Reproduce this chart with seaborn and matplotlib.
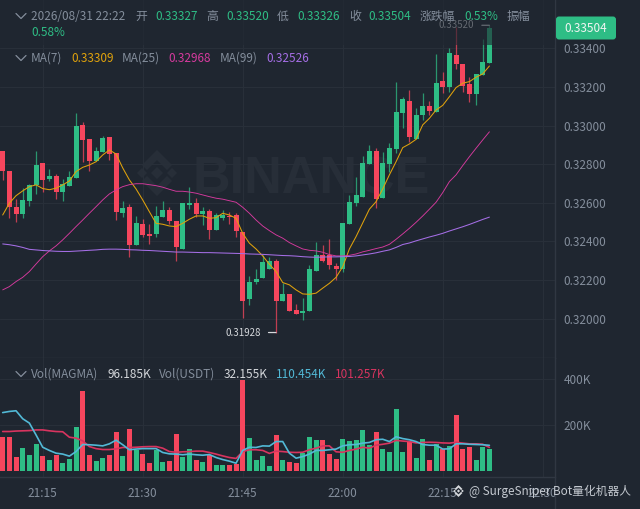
import matplotlib
matplotlib.use("Agg")
import matplotlib.pyplot as plt
import numpy as np
import pandas as pd
import seaborn as sns
from matplotlib.lines import Line2D
from matplotlib.patches import FancyBboxPatch, Polygon
from matplotlib.transforms import IdentityTransform

# 1m candles, 21:09 .. 22:22
opens = [.32867,.32765,.32580,.32542,.32610,.32691,.32805,.32724,.32739,.32658,
         .32689,.32729,.33004,.32931,.32817,.32865,.32940,.32858,.32546,.32580,
         .32382,.32491,.32439,.32439,.32528,.32563,.32508,.32360,.32589,.32598,
         .32541,.32560,.32460,.32523,.32534,.32537,.32449,.32102,.32192,.32211,
         .32256,.32300,.32093,.32128,.32045,.32031,.32038,.32247,.32330,.32330,
         .32273,.32256,.32491,.32601,.32629,.32801,.32869,.32624,.32801,.32879,
         .33067,.33128,.32931,.33055,.33102,.33072,.33232,.33199,.33366,.33320,
         .33216,.33164,.33263,.33327]
highs = [.32867,.32765,.32619,.32676,.32699,.32869,.32805,.32774,.32748,.32724,
         .32765,.33066,.33018,.32931,.32890,.32947,.32940,.32858,.32612,.32594,
         .32534,.32515,.32491,.32584,.32610,.32577,.32508,.32599,.32684,.32624,
         .32577,.32567,.32546,.32563,.32551,.32549,.32449,.32223,.32257,.32330,
         .32321,.32308,.32187,.32128,.32076,.32109,.32278,.32399,.32382,.32413,
         .32290,.32494,.32641,.32733,.32843,.32900,.32883,.32862,.32912,.33225,
         .33147,.33185,.33093,.33168,.33128,.33370,.33277,.33401,.33510,.33320,
         .33254,.33268,.33448,.33520]
lows = [.32719,.32522,.32499,.32520,.32585,.32645,.32655,.32713,.32620,.32610,
        .32689,.32729,.32810,.32765,.32817,.32865,.32822,.32511,.32527,.32321,
        .32382,.32425,.32387,.32425,.32528,.32491,.32300,.32360,.32567,.32528,
        .32485,.32411,.32460,.32511,.32491,.32425,.32005,.32071,.32180,.32211,
        .32256,.31928,.32093,.32038,.32024,.31993,.32038,.32247,.32295,.32256,
        .32201,.32242,.32491,.32584,.32629,.32801,.32572,.32624,.32762,.32857,
        .32986,.32917,.32931,.33029,.33055,.33072,.33168,.33176,.33294,.33176,
        .33124,.33107,.33263,.33326]
closes = [.32767,.32577,.32544,.32615,.32693,.32796,.32719,.32739,.32655,.32696,
          .32734,.33000,.32926,.32817,.32869,.32938,.32852,.32554,.32572,.32382,
          .32497,.32434,.32430,.32534,.32563,.32508,.32370,.32599,.32598,.32542,
          .32558,.32460,.32537,.32537,.32528,.32456,.32093,.32189,.32204,.32292,
          .32300,.32093,.32128,.32038,.32024,.32041,.32257,.32330,.32299,.32278,
          .32257,.32494,.32603,.32641,.32808,.32870,.32619,.32808,.32883,.33069,
          .33137,.32943,.33055,.33102,.33076,.33220,.33199,.33375,.33320,.33206,
          .33164,.33268,.33332,.33504]

ma7 = [.32537,.32598,.32637,.32662,.32684,.32693,.32674,.32668,.32676,.32693,
       .32713,.32762,.32784,.32796,.32813,.32848,.32874,.32853,.32781,.32719,
       .32672,.32615,.32554,.32494,.32489,.32480,.32477,.32494,.32515,.32532,
       .32532,.32520,.32523,.32546,.32537,.32520,.32442,.32391,.32361,.32325,
       .32282,.32244,.32187,.32175,.32149,.32128,.32126,.32132,.32158,.32183,
       .32214,.32269,.32361,.32425,.32496,.32567,.32606,.32672,.32745,.32813,
       .32886,.32905,.32929,.33004,.33038,.33081,.33105,.33150,.33197,.33220,
       .33228,.33251,.33268,.33309]
ma25 = [.32149,.32166,.32192,.32214,.32244,.32283,.32321,.32351,.32377,.32408,
        .32442,.32477,.32511,.32546,.32580,.32615,.32646,.32667,.32684,.32694,
        .32699,.32699,.32694,.32689,.32681,.32670,.32660,.32660,.32656,.32650,
        .32641,.32632,.32624,.32619,.32611,.32603,.32577,.32546,.32511,.32480,
        .32456,.32434,.32417,.32394,.32377,.32361,.32354,.32351,.32344,.32332,
        .32325,.32325,.32328,.32335,.32346,.32354,.32363,.32371,.32385,.32411,
        .32439,.32468,.32499,.32532,.32567,.32603,.32653,.32710,.32745,.32793,
        .32839,.32883,.32926,.32968]
ma99 = [.32387,.32383,.32377,.32369,.32359,.32356,.32353,.32351,.32349,.32348,
        .32348,.32350,.32352,.32354,.32356,.32359,.32360,.32360,.32359,.32357,
        .32356,.32354,.32353,.32351,.32349,.32347,.32345,.32345,.32344,.32343,
        .32342,.32342,.32341,.32340,.32339,.32338,.32337,.32335,.32334,.32333,
        .32331,.32329,.32327,.32326,.32324,.32321,.32319,.32318,.32319,.32320,
        .32320,.32321,.32322,.32325,.32330,.32335,.32341,.32349,.32356,.32369,
        .32384,.32392,.32403,.32413,.32423,.32432,.32442,.32454,.32465,.32476,
        .32488,.32501,.32514,.32526]

vol = [145,148,60,99,69,118,64,47,69,31,51,189,348,66,41,56,66,170,64,180,
       91,73,32,88,37,41,161,58,94,45,38,69,23,25,23,29,398,142,44,64,
       18,156,47,39,31,76,148,133,133,73,51,140,130,135,178,113,168,95,83,269,
       82,127,54,139,44,115,94,108,244,94,101,47,105,96.185]
vol_ma_a = [254,259,262,227,208,156,102,88,76,72,63,83,114,113,111,108,117,133,113,91,
            94,96,96,96,79,73,72,69,72,69,67,70,57,48,41,32,88,102,101,108,
            107,127,127,76,54,61,72,88,88,91,94,108,113,114,120,123,135,137,127,148,
            140,135,127,114,111,111,94,95,117,117,115,114,113,110.454]
vol_ma_b = [171,171,173,174,175,178,178,174,171,170,146,142,130,105,96,92,92,95,101,101,
            102,104,105,105,98,83,80,82,83,85,85,79,72,64,57,53,83,91,91,88,
            75,85,83,80,79,80,91,98,108,108,82,80,88,94,102,98,111,115,120,132,
            129,127,121,123,124,123,121,120,124,120,117,117,115,101.257]

price_ticks = [.320, .322, .324, .326, .328, .330, .332, .334]
vol_ticks = [200, 400]
time_pos = [6, 21, 36, 51, 66, 81]
time_labels = ["21:15", "21:30", "21:45", "22:00", "22:15", "22:30"]

BG = "#1f2630"
GRID = "#282f39"
EDGE = "#303742"
GRAY = "#848e9c"
UP = "#2ebd85"
DOWN = "#f6465d"
W, H = 640, 509

sns.set_theme(style="dark", rc={"axes.facecolor": BG, "figure.facecolor": BG})
plt.rcParams["font.family"] = ["Noto Sans CJK SC", "DejaVu Sans"]

fig = plt.figure(figsize=(W / 100, H / 100), dpi=100)
PANEL_MID, PANEL_BOT, PANEL_R = 358, 477, 555
ax = fig.add_axes([0, 1 - PANEL_MID / H, PANEL_R / W, PANEL_MID / H])
ax2 = fig.add_axes([0, 1 - PANEL_BOT / H, PANEL_R / W, (PANEL_BOT - PANEL_MID) / H])

idx = np.arange(len(closes))
df = pd.DataFrame({"idx": idx, "open": opens, "high": highs, "low": lows, "close": closes, "vol": vol,
                   "ma7": ma7, "ma25": ma25, "ma99": ma99, "vol_a": vol_ma_a, "vol_b": vol_ma_b})
df["side"] = np.where(df["close"] >= df["open"], "up", "down")
colors = df["side"].map({"up": UP, "down": DOWN})


def logo(target, cx, cy, r, color, z):
    # binance mark, built out of a centre diamond, two side diamonds, two chevrons
    s = r / 23
    def add(pts):
        xy = [(cx + s * a, H - (cy + s * b)) for a, b in pts]
        p = Polygon(xy, closed=True, fc=color, ec="none", zorder=z, transform=IdentityTransform())
        if target is fig:
            fig.add_artist(p)
        else:
            target.add_patch(p)
    add([(0, -6), (6, 0), (0, 6), (-6, 0)])
    add([(-15, -5), (-10, 0), (-15, 5), (-20, 0)])
    add([(15, -5), (20, 0), (15, 5), (10, 0)])
    add([(0, -23), (15, -8), (10, -3), (0, -13), (-10, -3), (-15, -8)])
    add([(0, 23), (15, 8), (10, 3), (0, 13), (-10, 3), (-15, 8)])


# price panel
logo(ax, 157, 173, 23, "#272e38", 0.5)
ax.text(193, H - 180, "BINANCE", family="Liberation Sans", weight="bold", fontsize=37.5, color="#272e38",
        va="center", ha="left", transform=IdentityTransform(), zorder=0.5)

ax.vlines(df["idx"], df["low"], df["high"], colors=colors, lw=0.9, alpha=0.75, zorder=2)
ax.bar(df["idx"], (df["close"] - df["open"]).abs(), bottom=df[["open", "close"]].min(axis=1),
       width=0.75, color=colors, edgecolor="none", linewidth=0, zorder=3)
sns.lineplot(data=df, x="idx", y="ma7", ax=ax, color="#e0a20c", lw=0.75, zorder=4)
sns.lineplot(data=df, x="idx", y="ma25", ax=ax, color="#d63a9e", lw=0.65, zorder=4)
sns.lineplot(data=df, x="idx", y="ma99", ax=ax, color="#a56ee6", lw=0.75, zorder=4)

ax.annotate("0.31928", xy=(41, lows[41]), xytext=(-15, 0), textcoords="offset pixels", ha="right", va="center",
            fontsize=7, color="#d5d8dc", zorder=6,
            arrowprops=dict(arrowstyle="-", color="#d5d8dc", lw=0.9, shrinkA=3, shrinkB=0))
ax.annotate("0.33520", xy=(73, highs[73]), xytext=(-15, 0), textcoords="offset pixels", ha="right", va="center",
            fontsize=7, color="#d5d8dc", zorder=4,
            arrowprops=dict(arrowstyle="-", color="#d5d8dc", lw=0.9, shrinkA=3, shrinkB=0))

# header strip sits over the top of the candles
ax.axhspan(.33418, .3366, color=BG, alpha=0.62, lw=0, zorder=5)

ax.set_xlim(-0.405, 82.84)
ax.set_ylim(.31796, .33651)
ax.set_yticks(price_ticks)
ax.set_yticklabels([f"{v:.5f}" for v in price_ticks])
ax.yaxis.tick_right()
ax.set_xticks(time_pos)
ax.set_xticklabels([])
ax.set_xlabel("")
ax.set_ylabel("")

# volume panel
palette = {"up": UP, "down": DOWN}
sns.barplot(data=df, x="idx", y="vol", hue="side", palette=palette, native_scale=True, dodge=False,
            width=0.75, saturation=1, legend=False, ax=ax2, zorder=2, edgecolor="none", linewidth=0)
sns.lineplot(data=df, x="idx", y="vol_b", ax=ax2, color="#d8345f", lw=1.2, zorder=3)
sns.lineplot(data=df, x="idx", y="vol_a", ax=ax2, color="#52b9d6", lw=1.2, zorder=4)
ax2.set_xlim(-0.405, 82.84)
ax2.set_ylim(-28.5, 493.4)
ax2.set_yticks(vol_ticks)
ax2.set_yticklabels([f"{v}K" for v in vol_ticks])
ax2.yaxis.tick_right()
ax2.set_xticks(time_pos)
ax2.set_xticklabels(time_labels)
ax2.set_xlabel("")
ax2.set_ylabel("")

for a in (ax, ax2):
    a.set_axisbelow(True)
    a.grid(True, color=GRID, lw=0.8)
    a.tick_params(axis="both", length=0, colors=GRAY, labelsize=8.5)
    a.tick_params(axis="y", pad=6)
    a.tick_params(axis="x", pad=7)
    for name, sp in a.spines.items():
        sp.set_visible(name in ("right", "bottom"))
        sp.set_color(EDGE)
        sp.set_linewidth(1)
fig.add_artist(Line2D([PANEL_R / W] * 2, [0, 1 - PANEL_BOT / H], color=EDGE, lw=1))


def txt(x, y, s, color=GRAY, size=8.5, **kw):
    fig.text(x / W, 1 - y / H, s, color=color, fontsize=size, va="center", ha="left", zorder=10, **kw)


def chevron(y):
    fig.add_artist(Line2D([16 / W, 21 / W, 26 / W], [1 - (y - 2.5) / H, 1 - (y + 2.5) / H, 1 - (y - 2.5) / H],
                          color=GRAY, lw=0.9, zorder=10))


chevron(16)
txt(31, 16.5, "2026/08/31 22:22")
txt(135, 16.5, "开")
txt(155, 16.5, "0.33327", UP)
txt(206, 16.5, "高")
txt(226, 16.5, "0.33520", UP)
txt(277, 16.5, "低")
txt(297, 16.5, "0.33326", UP)
txt(349, 16.5, "收")
txt(368.5, 16.5, "0.33504", UP)
txt(420, 16.5, "涨跌幅")
txt(464, 16.5, "0.53%", UP)
txt(507, 16.5, "振幅")
txt(31, 33, "0.58%", UP)

chevron(58)
txt(31, 58.5, "MA(7)")
txt(71, 58.5, "0.33309", "#e0a20c")
txt(122, 58.5, "MA(25)")
txt(168, 58.5, "0.32968", "#d63a9e")
txt(220, 58.5, "MA(99)")
txt(266, 58.5, "0.32526", "#a56ee6")

chevron(374)
txt(31, 374.5, "Vol(MAGMA)")
txt(107, 374.5, "96.185K", "#d5d8dc")
txt(159, 374.5, "Vol(USDT)")
txt(224, 374.5, "32.155K", "#d5d8dc")
txt(276, 374.5, "110.454K", "#52b9d6")
txt(335, 374.5, "101.257K", "#d8345f")

# current price tag
fig.add_artist(FancyBboxPatch((556, H - 39.5), 60, 23, boxstyle="round,pad=0,rounding_size=3",
                              fc=UP, ec="none", transform=IdentityTransform(), zorder=9))
fig.text(586 / W, 1 - 28 / H, "0.33504", color="#f2f5f3", fontsize=8.5, ha="center", va="center", zorder=10)

# repost watermark, bottom right
logo(fig, 458.5, 491, 6, "#d5d8dc", 11)
txt(469, 491, "@ SurgeSniper Bot量化机器人", "#c3c8cf", 8.45)

fig.savefig("out.png")
